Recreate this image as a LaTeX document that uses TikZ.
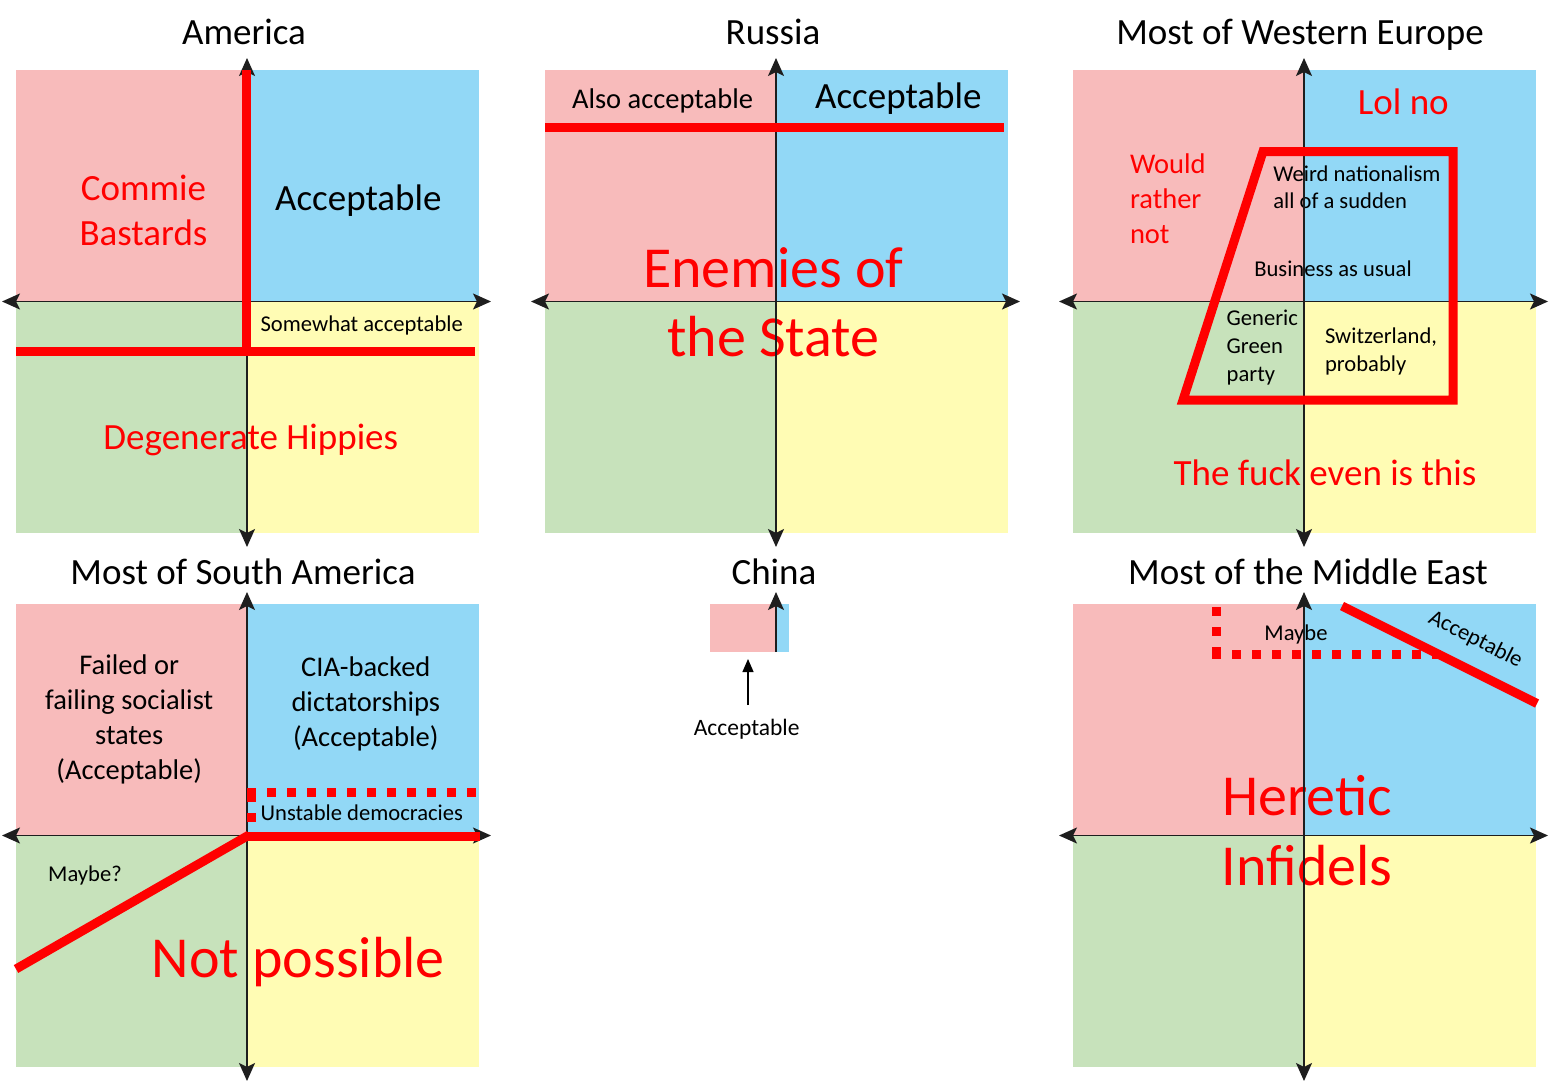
\documentclass[tikz,border=0pt]{standalone}
\usepackage{fontspec}
\setmainfont{Carlito}
\usetikzlibrary{arrows.meta}
\definecolor{qpink}{RGB}{248,187,187}
\definecolor{qblue}{RGB}{146,216,246}
\definecolor{qgreen}{RGB}{199,226,187}
\definecolor{qyellow}{RGB}{255,252,180}
\definecolor{qred}{RGB}{255,0,0}
\definecolor{qaxis}{RGB}{30,30,30}
\newcommand\quadbg[2]{%
  \fill[qpink]   (#1,#2) rectangle (#1+231,#2+231.5);
  \fill[qblue]   (#1+231,#2) rectangle (#1+463,#2+231.5);
  \fill[qgreen]  (#1,#2+231.5) rectangle (#1+231,#2+463);
  \fill[qyellow] (#1+231,#2+231.5) rectangle (#1+463,#2+463);
}
\newcommand\quadaxes[2]{%
  \draw[axisline] (#1-14,#2+231.5) -- (#1+475,#2+231.5);
  \draw[axisline] (#1+231,#2+477) -- (#1+231,#2-12);
}
\begin{document}
\begin{tikzpicture}[x=1pt,y=-1pt,
  every node/.style={inner sep=0pt,outer sep=0pt},
  ttl/.style={font=\fontsize{37}{45}\selectfont,anchor=base},
  bigtxt/.style={font=\fontsize{37}{44.3}\selectfont,anchor=base,align=center},
  hugetxt/.style={font=\fontsize{58}{69.5}\selectfont,anchor=base,align=center,text=qred},
  medtxt/.style={font=\fontsize{28.5}{34.7}\selectfont,anchor=base,align=center},
  smalltxt/.style={font=\fontsize{22.6}{27.7}\selectfont,anchor=base},
  redtxt/.style={text=qred},
  axisline/.style={draw=qaxis,line width=1.6pt,
    {Stealth[length=18pt,width=16pt,inset=4pt]}-{Stealth[length=18pt,width=16pt,inset=4pt]}},
  redline/.style={draw=qred,line width=9pt,line cap=butt},
  reddots/.style={draw=qred,line width=9pt,line cap=butt,dash pattern=on 9pt off 11pt},
]
\useasboundingbox[fill=white] (0,0) rectangle (1550,1081);

% ---------- backgrounds ----------
\quadbg{16}{70}
\quadbg{545}{70}
\quadbg{1073}{70}
\quadbg{16}{604}
\quadbg{1073}{604}
\fill[qpink] (710,604) rectangle (776,652);
\fill[qblue] (776,604) rectangle (789,652);

% ---------- titles ----------
\node[ttl] (tA) at (244,45) {America};
\node[ttl] (tR) at (773,45) {Russia};
\node[ttl] (tW) at (1300,45) {Most of Western Europe};
\node[ttl] (tS) at (243,584) {Most of South America};
\node[ttl] (tC) at (774,584) {China};
\node[ttl] (tM) at (1308,584) {Most of the Middle East};

% ---------- America ----------
% (base anchor of a multi-line node = baseline of its last line)
\node[bigtxt,redtxt] (aCommie) at (143.5,245) {Commie\\Bastards};
\node[bigtxt] (aAcc) at (358.3,210.7) {Acceptable};
\node[smalltxt] (aSome) at (361.7,331.7) {Somewhat acceptable};
\node[bigtxt,redtxt] (aDeg) at (250.8,449) {Degenerate Hippies};

% ---------- Russia ----------
\node[medtxt] (rAlso) at (662.5,108.3) {Also acceptable};
\node[bigtxt] (rAcc) at (898.3,108.3) {Acceptable};
\node[hugetxt] (rEnem) at (773.3,356.5) {Enemies of\\the State};

% ---------- Western Europe ----------
\node[bigtxt,redtxt] (wLol) at (1403.3,114) {Lol no};
\node[medtxt,redtxt,align=left,anchor=base west] (wWould) at (1130,243.3) {Would\\rather\\not};
\node[smalltxt,align=left,anchor=base west] (wWeird) at (1273.3,208.7) {Weird nationalism\\all of a sudden};
\node[smalltxt,anchor=base west] (wBus) at (1254.3,276.7) {Business as usual};
\node[smalltxt,align=left,anchor=base west] (wGreen) at (1226.7,381.1) {Generic\\Green\\party};
\node[smalltxt,align=left,anchor=base west] (wSwiss) at (1325,371) {Switzerland,\\probably};
\node[bigtxt,redtxt] (wFuck) at (1325,485) {The fuck even is this};

% ---------- South America ----------
\node[medtxt] (sFail) at (129.2,779) {Failed or\\failing socialist\\states\\(Acceptable)};
\node[medtxt] (sCIA) at (365.8,746) {CIA-backed\\dictatorships\\(Acceptable)};
\node[smalltxt,anchor=base west] (sUnst) at (260.7,820.7) {Unstable democracies};
\node[smalltxt] (sMaybe) at (85,881) {Maybe?};
\node[hugetxt] (sNot) at (298.3,977.7) {Not possible};

% ---------- China ----------
\node[font=\fontsize{23.5}{28}\selectfont,anchor=base] (cAcc) at (746.7,735.7) {Acceptable};
\coordinate (cTail) at (748,705);
\coordinate (cTip) at (748,659);

% ---------- Middle East ----------
\node[smalltxt] (mMaybe) at (1296,640) {Maybe};
\node[font=\fontsize{22.6}{27.7}\selectfont,rotate=-26.7] (mAcc) at (1475.5,639.5) {Acceptable};
\node[hugetxt] (mHer) at (1307,885) {Heretic\\Infidels};

% ---------- axes ----------
\quadaxes{16}{70}
\quadaxes{545}{70}
\quadaxes{1073}{70}
\quadaxes{16}{604}
\quadaxes{1073}{604}
\draw[draw=qaxis,line width=1.6pt,-{Stealth[length=18pt,width=16pt,inset=4pt]}] (776,652) -- (776,592);
\draw[draw=black,line width=1.3pt,-{Triangle[length=13pt,width=11pt]}] (cTail) -- (cTip);

% ---------- red lines ----------
% America
\draw[redline] (246,70) -- (246,351.5);
\draw[redline] (16,351.5) -- (475,351.5);
% Russia
\draw[redline] (545,127.7) -- (1004,127.7);
% Western Europe
\draw[redline,line join=miter] (1263,151.5) -- (1453,151.5) -- (1453,400) -- (1183,400) -- cycle;
% South America
\draw[reddots] (247,792) -- (480,792);
\draw[reddots] (251,822) -- (251,788);
\draw[redline] (245,836) -- (480,836);
\draw[redline] (249,835) -- (16,969);
% Middle East
\draw[reddots] (1216,607) -- (1216,658);
\draw[reddots] (1212,654) -- (1443,654);
\draw[redline] (1342,606) -- (1537,703.5);
\end{tikzpicture}
\end{document}
